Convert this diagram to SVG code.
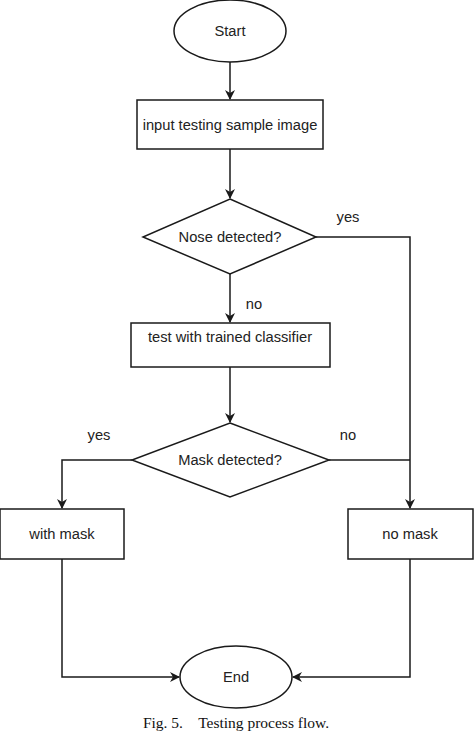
<svg xmlns="http://www.w3.org/2000/svg" width="474" height="733" viewBox="0 0 474 733">
<style>
.s{fill:#fff;stroke:#1a1a1a;stroke-width:1.5}
.c{fill:none;stroke:#1a1a1a;stroke-width:1.5}
.t{font-family:"Liberation Sans",Arial,sans-serif;font-size:14.7px;fill:#222;text-anchor:middle}
.cap{font-family:"Liberation Serif","Times New Roman",serif;font-size:15.5px;fill:#111;text-anchor:middle}
</style>
<defs>
<marker id="a" viewBox="0 0 10 10" refX="9" refY="5" markerWidth="10" markerHeight="10" markerUnits="userSpaceOnUse" orient="auto">
<path d="M0,0 L10,5 L0,10 L3,5 Z" fill="#1a1a1a"/>
</marker>
</defs>
<rect width="474" height="733" fill="#fff"/>
<g id="connectors">
<path class="c" d="M230,62 V99" marker-end="url(#a)"/>
<path class="c" d="M230,149 V198" marker-end="url(#a)"/>
<path class="c" d="M230,274 V322" marker-end="url(#a)"/>
<path class="c" d="M230,367 V422" marker-end="url(#a)"/>
<path class="c" d="M316,237 H410 V508" marker-end="url(#a)"/>
<path class="c" d="M329,460 H410"/>
<path class="c" d="M132,460 H62 V508" marker-end="url(#a)"/>
<path class="c" d="M62,559 V677 H179" marker-end="url(#a)"/>
<path class="c" d="M410,559 V677 H293" marker-end="url(#a)"/>
<text class="t" x="348" y="222">yes</text>
<text class="t" x="254" y="309">no</text>
<text class="t" x="99" y="440">yes</text>
<text class="t" x="348" y="440">no</text>
</g>
<g id="start">
<ellipse class="s" cx="230" cy="31" rx="56" ry="31"/>
<text class="t" x="230" y="36">Start</text>
</g>
<g id="input">
<rect class="s" x="137" y="100" width="186" height="49"/>
<text class="t" x="230" y="130">input testing sample image</text>
</g>
<g id="nose">
<polygon class="s" points="230,199 316,237 230,274 143,237"/>
<text class="t" x="230" y="242">Nose detected?</text>
</g>
<g id="classifier">
<rect class="s" x="131" y="323" width="199" height="44"/>
<text class="t" x="230" y="342">test with trained classifier</text>
</g>
<g id="mask">
<polygon class="s" points="230,423 329,460 230,497 132,460"/>
<text class="t" x="230" y="465">Mask detected?</text>
</g>
<g id="withmask">
<rect class="s" x="0" y="509" width="124" height="50"/>
<text class="t" x="62" y="539">with mask</text>
</g>
<g id="nomask">
<rect class="s" x="348" y="509" width="125" height="50"/>
<text class="t" x="410" y="539">no mask</text>
</g>
<g id="end">
<ellipse class="s" cx="236" cy="677" rx="56" ry="31"/>
<text class="t" x="236" y="682">End</text>
</g>
<text class="cap" x="236" y="728" xml:space="preserve">Fig. 5.    Testing process flow.</text>
</svg>
